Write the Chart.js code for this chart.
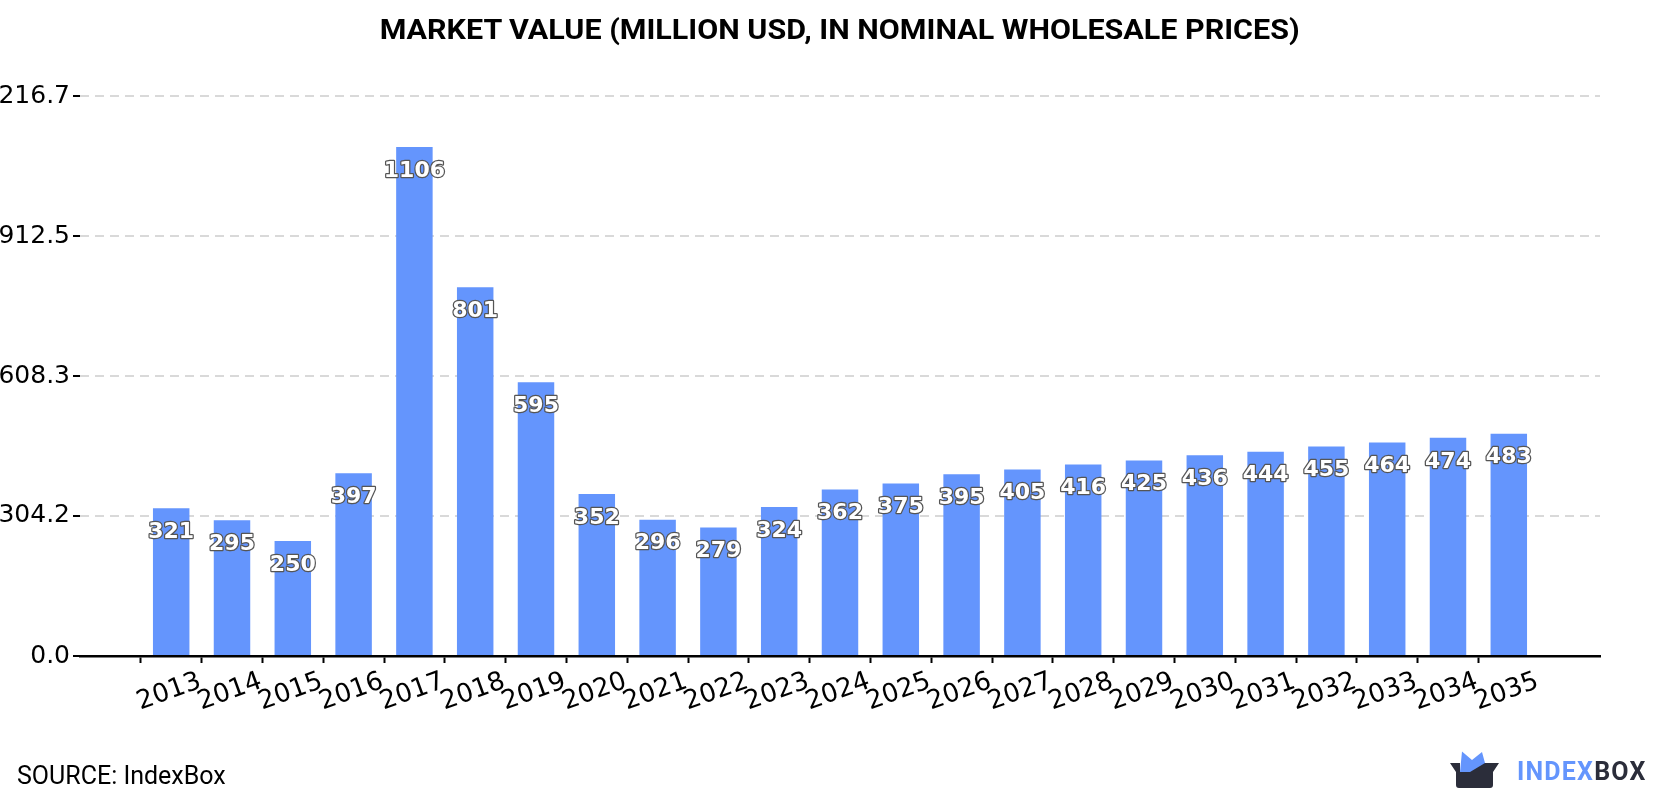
<!DOCTYPE html>
<html>
<head>
    <title>Market Value</title>
    <script src="https://cdn.jsdelivr.net/npm/chart.js"></script>
    <style>
        body { margin: 0; background: #fff; }
        #wrap { position: relative; width: 1680px; height: 800px; overflow: hidden; }
        #titulo {
            position: absolute; top: 16px; left: 0; width: 1680px; text-align: center;
            font: bold 28px Roboto, sans-serif; color: #000; line-height: 28px; white-space: nowrap;
        }
        #titulo span { display: inline-block; transform-origin: center; }
        #fuente {
            position: absolute; left: 17px; top: 764px;
            font: 25px Roboto, sans-serif; line-height: 24px; color: #000;
        }
        #logo { position: absolute; left: 1450px; top: 750px; }
        #logoTxt {
            position: absolute; left: 1517px; top: 760px;
            font: bold 25px Roboto, sans-serif; line-height: 24px; letter-spacing: 1.2px;
        }
    </style>
</head>
<body>
<div id="wrap">
    <canvas id="miGrafica" width="1680" height="800"></canvas>
    <div id="titulo"><span>MARKET VALUE (MILLION USD, IN NOMINAL WHOLESALE PRICES)</span></div>
    <div id="fuente">SOURCE: IndexBox</div>
    <svg id="logo" width="52" height="40" viewBox="0 0 52 40">
        <path d="M10 22 L12 1.5 L22 10 L32 2 L35 13 L35 22 Z" fill="#6495fd"/>
        <path d="M0 13 L10 13 L10 22 L20 22 L35 13 L49 13 L43 22 L43 35 Q43 38 40 38 L9 38 Q6 38 6 35 L6 22 Z" fill="#2b2d3a"/>
    </svg>
    <div id="logoTxt"><span style="color:#6495fd">INDEX</span><span style="color:#2b2d3a">BOX</span></div>
</div>
<script>
    // datos
    const anios = ['2013', '2014', '2015', '2016', '2017', '2018', '2019', '2020', '2021', '2022', '2023', '2024',
                   '2025', '2026', '2027', '2028', '2029', '2030', '2031', '2032', '2033', '2034', '2035'];
    const valores = [321, 295, 250, 397, 1106, 801, 595, 352, 296, 279, 324, 362,
                     375, 395, 405, 416, 425, 436, 444, 455, 464, 474, 483];
    const marcasY = [0, 304.2, 608.3, 912.5, 1216.7];

    // ajustar ancho del titulo
    const t = document.querySelector('#titulo span');
    t.style.transform = 'scaleX(' + (920 / t.getBoundingClientRect().width) + ')';

    // una categoria vacia a cada lado
    const etiquetas = [''].concat(anios, ['']);
    const datos = [null].concat(valores, [null]);

    const etiquetasBarras = {
        id: 'etiquetasBarras',
        afterDatasetsDraw(chart) {
            const ctx = chart.ctx;
            const meta = chart.getDatasetMeta(0);
            ctx.save();
            ctx.font = 'bold 22px "DejaVu Sans"';
            ctx.textAlign = 'center';
            ctx.textBaseline = 'middle';
            ctx.lineJoin = 'round';
            ctx.lineWidth = 2.5;
            ctx.strokeStyle = '#555';
            ctx.fillStyle = '#fff';
            meta.data.forEach((barra, i) => {
                const v = datos[i];
                if (v === null) return;
                ctx.strokeText(v, barra.x, barra.y + 24);
                ctx.fillText(v, barra.x, barra.y + 24);
            });
            ctx.restore();
        }
    };

    new Chart(document.getElementById('miGrafica'), {
        type: 'bar',
        data: {
            labels: etiquetas,
            datasets: [{
                data: datos,
                backgroundColor: '#6495fd',
                barPercentage: 0.6,
                categoryPercentage: 1.0
            }]
        },
        options: {
            responsive: false,
            animation: false,
            layout: { padding: { left: 0, top: 96, right: 80, bottom: 44 } },
            plugins: { legend: { display: false }, tooltip: { enabled: false } },
            scales: {
                x: {
                    afterFit: s => { s.height = 100; },
                    border: { display: true, color: '#000', width: 2.5 },
                    grid: {
                        drawOnChartArea: false,
                        tickLength: 7,
                        tickWidth: 2,
                        tickColor: c => (c.tick && c.tick.label) ? '#000' : 'rgba(0,0,0,0)'
                    },
                    ticks: {
                        autoSkip: false,
                        minRotation: 20,
                        maxRotation: 20,
                        labelOffset: 29,
                        padding: 3,
                        color: '#000',
                        font: { family: 'DejaVu Sans', size: 26 }
                    }
                },
                y: {
                    min: 0,
                    max: 1216.7,
                    afterFit: s => { s.width = 80; },
                    afterBuildTicks: s => { s.ticks = marcasY.map(v => ({ value: v })); },
                    border: { display: false, dash: [9, 6] },
                    grid: {
                        color: '#d9d9d9',
                        lineWidth: 2,
                        tickBorderDash: [],
                        tickColor: '#000',
                        tickLength: 7,
                        tickWidth: 2
                    },
                    ticks: {
                        padding: 3,
                        color: '#000',
                        font: { family: 'DejaVu Sans', size: 25 },
                        callback: v => v.toFixed(1)
                    }
                }
            }
        },
        plugins: [etiquetasBarras]
    });
</script>
</body>
</html>
